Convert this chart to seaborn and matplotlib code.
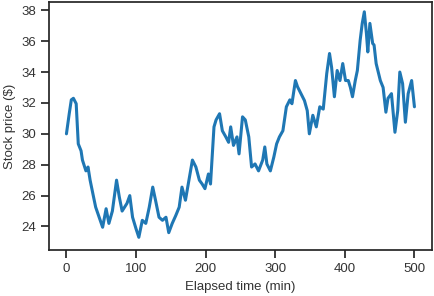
import matplotlib
matplotlib.use("Agg")
import matplotlib.pyplot as plt
import seaborn as sns
import pandas as pd

time_min = [0, 4, 7, 10, 14, 17, 21, 23, 28, 31, 34, 39, 42, 47, 52, 57, 61, 66, 72, 76,
            80, 87, 91, 95, 100, 104, 109, 114, 119, 124, 128, 133, 138, 143, 147, 152, 157,
            162, 166, 171, 176, 181, 186, 191, 195, 199, 204, 207, 212, 215, 220, 224, 229,
            233, 236, 240, 245, 248, 253, 257, 262, 266, 271, 276, 282, 285, 288, 293, 298,
            302, 306, 311, 316, 321, 324, 329, 332, 337, 342, 346, 349, 354, 359, 364, 369,
            374, 378, 381, 385, 389, 393, 397, 401, 405, 408, 411, 415, 418, 422, 425, 428,
            431, 433, 436, 440, 442, 445, 448, 451, 455, 459, 462, 467, 472, 476, 479, 483,
            487, 491, 496, 500]
price = [30.0, 31.3, 32.2, 32.3, 31.95, 29.35, 28.9, 28.3, 27.6, 27.85, 27.0, 25.9, 25.25,
         24.6, 23.95, 25.15, 24.2, 25.0, 27.0, 25.9, 25.0, 25.5, 26.0, 24.6, 23.85, 23.3,
         24.4, 24.2, 25.25, 26.55, 25.7, 24.6, 24.4, 24.6, 23.6, 24.2, 24.7, 25.25, 26.55,
         25.7, 27.0, 28.3, 27.85, 27.0, 26.75, 26.45, 27.4, 26.75, 30.45, 30.9, 31.3, 30.2,
         29.8, 29.45, 30.45, 29.25, 29.8, 28.7, 31.1, 30.9, 29.8, 27.85, 28.05, 27.6, 28.3,
         29.15, 28.05, 27.6, 28.5, 29.35, 29.8, 30.2, 31.75, 32.2, 31.95, 33.45, 33.05, 32.6,
         32.15, 31.5, 30.0, 31.2, 30.45, 31.75, 31.6, 33.9, 35.2, 34.3, 32.4, 34.1, 33.45,
         34.55, 33.45, 33.45, 33.0, 32.4, 33.45, 34.1, 36.05, 37.15, 37.9, 36.5, 35.3, 37.15,
         35.85, 35.75, 34.55, 34.0, 33.45, 33.0, 31.4, 32.3, 32.6, 30.1, 31.5, 34.0, 33.25,
         30.75, 32.6, 33.45, 31.75]

df = pd.DataFrame({"t": time_min, "p": price})

sns.set_theme(style="ticks")
plt.rcParams["font.family"] = ["Liberation Sans", "DejaVu Sans"]
plt.rcParams["font.size"] = 9.5

fig = plt.figure(figsize=(4.34, 2.96), dpi=100)
ax = fig.add_axes([0.113, 0.155, 0.882, 0.838])
sns.lineplot(data=df, x="t", y="p", ax=ax, color="#1f77b4", linewidth=2.2)
ax.set_xlabel("Elapsed time (min)", fontsize=9.5, color="#333333")
ax.set_ylabel("Stock price (\\$)", fontsize=9.5, color="#333333")
ax.set_xticks([0, 100, 200, 300, 400, 500])
ax.set_yticks([24, 26, 28, 30, 32, 34, 36, 38])
ax.tick_params(labelsize=9.5, labelcolor="#333333")
ax.set_xlim(-25, 525)
ax.set_ylim(22.47, 38.53)
fig.savefig("out.png", dpi=100)
